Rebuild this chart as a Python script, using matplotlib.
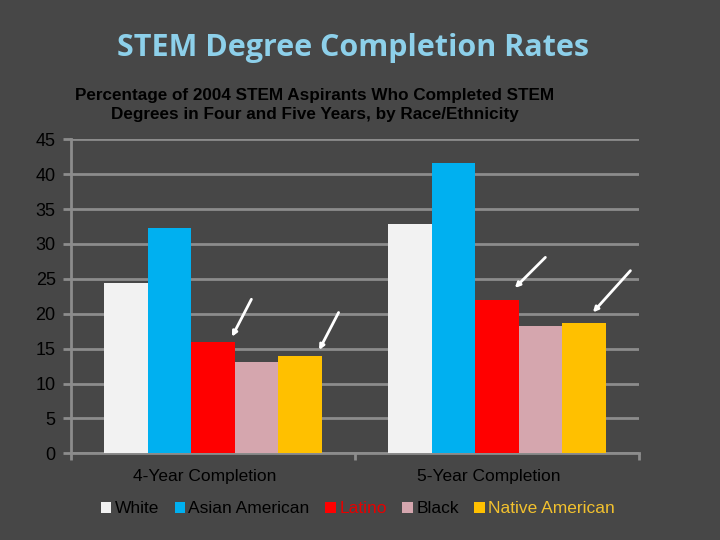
import numpy as np
import matplotlib
matplotlib.use("Agg")
import matplotlib.pyplot as plt

# data
categories = ["4-Year Completion", "5-Year Completion"]
groups = ["White", "Asian American", "Latino", "Black", "Native American"]
values = {
    "White": [24.4, 32.9],
    "Asian American": [32.3, 41.6],
    "Latino": [15.9, 22.0],
    "Black": [13.1, 18.2],
    "Native American": [14.0, 18.7],
}
bar_colors = ["#f2f2f2", "#00b0f0", "#ff0000", "#d5a6ae", "#ffc000"]
legend_text_colors = ["black", "black", "#e60000", "black", "#f2c12e"]
yticks = [0, 5, 10, 15, 20, 25, 30, 35, 40, 45]
# arrows: (group, category index, head offset from bar's top-right (dx, dy), tail offset in points)
arrows = [("Latino", 0, (-0.01, 0.8), (14, 27)),
          ("Native American", 0, (-0.01, 0.8), (14, 27)),
          ("Latino", 1, (-0.014, 1.7), (22, 22)),
          ("Native American", 1, (-0.046, 1.5), (27, 30))]

bg = "#474747"
grid_c = "#8c8c8c"
plt.rcParams["font.family"] = ["Liberation Sans", "DejaVu Sans"]

fig = plt.figure(figsize=(7.2, 5.4), dpi=100, facecolor=bg)
ax = fig.add_axes([0.0986, 0.1606, 0.7889, 0.5814], facecolor=bg)

x = np.arange(len(categories))
w = 0.1535
for i, g in enumerate(groups):
    ax.bar(x + (i - 2) * w, values[g], w, color=bar_colors[i], label=g,
           zorder=3, edgecolor="none")

for g, ci, head, off in arrows:
    i = groups.index(g)
    bx = x[ci] + (i - 2) * w + w / 2 + head[0]
    by = values[g][ci] + head[1]
    ax.annotate("", xy=(bx, by), xytext=off, textcoords="offset points",
                arrowprops=dict(arrowstyle="-|>", color="white", lw=2,
                                mutation_scale=7, shrinkA=0, shrinkB=0),
                zorder=5)

ax.set_xlim(-0.5, 1.5)
ax.set_ylim(0, 45)
ax.set_yticks(yticks)
ax.yaxis.grid(True, color=grid_c, lw=2, zorder=0)
ax.set_axisbelow(True)
ax.tick_params(axis="y", colors=grid_c, labelcolor="black", labelsize=13,
               length=6, width=2, pad=5)
ax.set_xticks([-0.5, 0.5, 1.5])
ax.set_xticklabels([])
ax.tick_params(axis="x", colors=grid_c, length=5, width=2, direction="out")
for c, lab in zip(x, categories):
    ax.text(c - 0.03, -3.3, lab, ha="center", va="center", fontsize=12.5,
            color="black")
for s in ["top", "right"]:
    ax.spines[s].set_visible(False)
ax.spines["left"].set_color(grid_c)
ax.spines["left"].set_linewidth(2)
ax.spines["bottom"].set_color(grid_c)
ax.spines["bottom"].set_linewidth(2)

fig.text(0.49, 0.911, "STEM Degree Completion Rates", ha="center", va="center",
         fontsize=22, fontweight="bold", color="#8dd0ea", family="Open Sans")
fig.text(0.437, 0.806, "Percentage of 2004 STEM Aspirants Who Completed STEM\n"
         "Degrees in Four and Five Years, by Race/Ethnicity",
         ha="center", va="center", fontsize=12.3, fontweight="bold",
         color="black", linespacing=1.35)

leg = fig.legend(loc="center", bbox_to_anchor=(0.497, 0.058), ncol=5,
                 frameon=False, fontsize=12.5, handlelength=0.6,
                 handleheight=0.6, handletextpad=0.2, columnspacing=0.9)
for t, c in zip(leg.get_texts(), legend_text_colors):
    t.set_color(c)

fig.savefig("out.png", dpi=100, facecolor=bg)
